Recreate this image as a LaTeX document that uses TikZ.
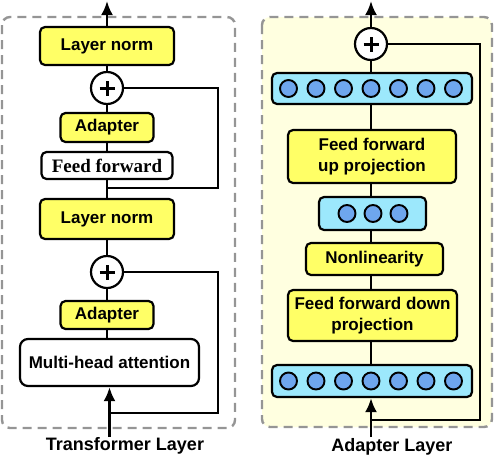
\documentclass[tikz,border=0pt]{standalone}
\usepackage{fontspec}
\setmainfont{Liberation Sans}
\newfontfamily\serifbold{Liberation Serif}
\usetikzlibrary{arrows.meta}
\definecolor{colorBox}{HTML}{FFFF66}
\definecolor{colorPanel}{HTML}{FFFFE0}
\definecolor{colorBar}{HTML}{9CE8FC}
\definecolor{colorUnit}{HTML}{6EA6EE}
\definecolor{colorDash}{HTML}{959595}

\tikzset{
  box/.style={draw, line width=2.2pt, rounded corners=5pt, fill=colorBox, align=center, inner sep=0pt,
    font=\fontsize{17}{21}\selectfont\bfseries},
  plainbox/.style={box, fill=white},
  bar/.style={draw, line width=2.2pt, rounded corners=5pt, fill=colorBar, inner sep=0pt},
  unit/.style={circle, draw, line width=1.9pt, fill=colorUnit, minimum size=17pt, inner sep=0pt},
  sum/.style={circle, draw, line width=2.2pt, fill=white, minimum size=32pt, inner sep=0pt,
    path picture={\draw[line width=3pt]
      ([xshift=-7.5pt]path picture bounding box.center) -- ([xshift=7.5pt]path picture bounding box.center)
      ([yshift=-7.5pt]path picture bounding box.center) -- ([yshift=7.5pt]path picture bounding box.center);}},
  panel/.style={draw=colorDash, line width=2.4pt, dash pattern=on 9pt off 6pt, rounded corners=8pt},
  link/.style={line width=2.6pt},
  flow/.style={link, -{Latex[length=14pt,width=12pt]}},
  caption/.style={font=\fontsize{18}{20}\selectfont\bfseries}
}

\begin{document}
\begin{tikzpicture}[x=1pt,y=-1pt]
    \useasboundingbox (0,0) rectangle (498,459);
    % panels
    \draw[panel] (2,17) rectangle (235,428);
    \draw[panel, fill=colorPanel] (262,17) rectangle (492,427);

    % transformer layer
    \node[box, minimum width=134pt, minimum height=38pt] (norm1) at (107,46) {Layer norm};
    \node[sum] (sum1) at (107,88) {};
    \node[box, minimum width=93pt, minimum height=29pt] (adapt1) at (107,127.5) {Adapter};
    \node[plainbox, minimum width=131pt, minimum height=27pt, font=\serifbold\bfseries\fontsize{19}{22}\selectfont] (ffwd) at (107,165.5) {Feed forward};
    \node[box, minimum width=134pt, minimum height=40pt] (norm2) at (107,219) {Layer norm};
    \node[sum] (sum2) at (107,272) {};
    \node[box, minimum width=93pt, minimum height=28pt] (adapt2) at (107,315) {Adapter};
    \node[plainbox, minimum width=179pt, minimum height=47pt, rounded corners=8pt] (attn) at (109.5,362.5) {Multi-head attention};
    \coordinate (out1) at (107,1);
    \coordinate (in1) at (109.5,437);
    \coordinate (skip1) at (107,188);
    \coordinate (skip2) at (109.5,413);

    \draw[flow] (norm1) -- (out1);
    \draw[link] (sum1) -- (norm1);
    \draw[link] (adapt1) -- (sum1);
    \draw[link] (ffwd) -- (adapt1);
    \draw[link] (norm2) -- (ffwd);
    \draw[link] (sum2) -- (norm2);
    \draw[link] (adapt2) -- (sum2);
    \draw[link] (attn.north -| adapt2) -- (adapt2);
    \draw[flow] (in1) -- (attn);
    \draw[link] (skip1) -- ++(111,0) |- (sum1);
    \draw[link] (skip2) -- ++(108.5,0) |- (sum2);
    \node[caption] (capT) at (125,446) {Transformer Layer};

    % adapter layer
    \node[sum] (sumA) at (371,44) {};
    \node[bar, minimum width=200pt, minimum height=31pt] (wide1) at (372,88.5) {};
    \node[box, minimum width=168pt, minimum height=53pt] (up) at (372,156.5) {Feed forward\\up projection};
    \node[bar, minimum width=107pt, minimum height=33pt] (narrow) at (372.5,213.5) {};
    \node[box, minimum width=137pt, minimum height=32pt] (nonlin) at (374.5,259) {Nonlinearity};
    \node[box, minimum width=169pt, minimum height=51pt] (down) at (372.5,315.5) {Feed forward down\\projection};
    \node[bar, minimum width=200pt, minimum height=32pt] (wide2) at (372,381) {};
    \foreach \i in {1,...,7} {
        \node[unit] (top\i) at ({371+27.5*(\i-4)},88.5) {};
        \node[unit] (bot\i) at ({371+27.5*(\i-4)},381) {};
    }
    \foreach \i in {1,2,3}
        \node[unit] (mid\i) at ({373+26*(\i-2)},213.5) {};
    \coordinate (out2) at (371,1);
    \coordinate (in2) at (371,437);
    \coordinate (skip3) at (371,420);

    \draw[flow] (sumA) -- (out2);
    \draw[link] (wide1.north -| sumA) -- (sumA);
    \draw[link] (up.north -| sumA) -- (wide1.south -| sumA);
    \draw[link] (narrow.north -| sumA) -- (up.south -| sumA);
    \draw[link] (nonlin.north -| sumA) -- (narrow.south -| sumA);
    \draw[link] (down.north -| sumA) -- (nonlin.south -| sumA);
    \draw[link] (wide2.north -| sumA) -- (down.south -| sumA);
    \draw[flow] (in2) -- (wide2.south -| in2);
    \draw[link] (skip3) -- ++(109,0) |- (sumA);
    \node[caption] (capA) at (392,447) {Adapter Layer};
\end{tikzpicture}
\end{document}
